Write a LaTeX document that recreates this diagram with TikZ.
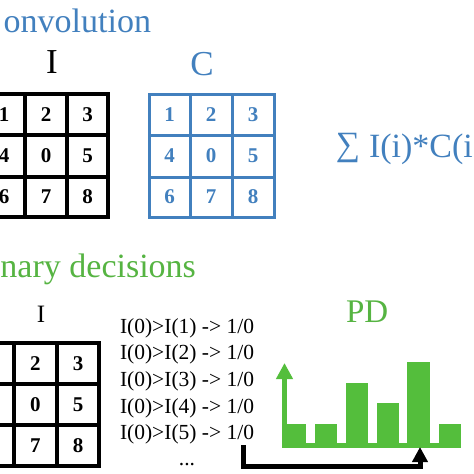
\documentclass[tikz,border=0pt]{standalone}
\usepackage{fontspec}
\setmainfont{Liberation Serif}
\usetikzlibrary{arrows.meta}
\definecolor{cblue}{RGB}{66,128,190}
\definecolor{cgreen}{RGB}{86,180,66}
\definecolor{cbar}{RGB}{84,190,60}
\begin{document}
\begin{tikzpicture}[x=1pt,y=-1pt,
  every node/.style={inner sep=0pt, outer sep=0pt},
  heading/.style={font=\fontsize{34}{34}\selectfont},
  gridlabel/.style={font=\fontsize{35}{35}\selectfont, anchor=base},
  digit/.style={font=\fontsize{21}{21}\selectfont\bfseries},
  bluedigit/.style={digit, text=cblue},
  rulet/.style={font=\fontsize{21.5}{21.5}\selectfont, anchor=base west},
  blackgrid/.style={line width=3.5pt, line cap=rect},
  bluegrid/.style={line width=3pt, draw=cblue, line cap=rect},
  bar/.style={fill=cbar},
]
\useasboundingbox (0,0) rectangle (474,474);
\clip (0,0) rectangle (474,474);
\fill[white] (0,0) rectangle (474,474);

% ---------- Convolution ----------
\node[heading, text=cblue, anchor=base east] (tconv) at (151,32) {onvolution};
\node[gridlabel] (lI1) at (52,73) {I};
\node[gridlabel, text=cblue] (lC) at (202,75) {C};

% I grid (top)
\draw[blackgrid] (-17,94) rectangle (108,217);
\draw[blackgrid] (25,94) -- (25,217) (67,94) -- (67,217)
                 (-17,135) -- (108,135) (-17,177) -- (108,177);
\node[digit] (a1) at (4,114.5) {1};
\node[digit] (a2) at (46,114.5) {2};
\node[digit] (a3) at (87.5,114.5) {3};
\node[digit] (a4) at (4,156) {4};
\node[digit] (a0) at (46,156) {0};
\node[digit] (a5) at (87.5,156) {5};
\node[digit] (a6) at (4,197) {6};
\node[digit] (a7) at (46,197) {7};
\node[digit] (a8) at (87.5,197) {8};

% C grid
\draw[bluegrid] (149,94) rectangle (274,217);
\draw[bluegrid] (190,94) -- (190,217) (232,94) -- (232,217)
                (149,135) -- (274,135) (149,177) -- (274,177);
\node[bluedigit] (c1) at (169.5,114.5) {1};
\node[bluedigit] (c2) at (211,114.5) {2};
\node[bluedigit] (c3) at (253,114.5) {3};
\node[bluedigit] (c4) at (169.5,156) {4};
\node[bluedigit] (c0) at (211,156) {0};
\node[bluedigit] (c5) at (253,156) {5};
\node[bluedigit] (c6) at (169.5,197) {6};
\node[bluedigit] (c7) at (211,197) {7};
\node[bluedigit] (c8) at (253,197) {8};

% sum
\node[text=cblue, font=\fontsize{34}{34}\selectfont] (sig) at (348,148) {∑};
\node[text=cblue, font=\fontsize{34}{34}\selectfont, anchor=base west] (sumt) at (369,157) {I(i)*C(i};

% ---------- Binary decisions ----------
\node[heading, text=cgreen, anchor=base west] (tbin) at (0.5,277) {nary decisions};
\node[font=\fontsize{25}{25}\selectfont, anchor=base] (lI2) at (41,322) {I};

\draw[blackgrid] (-28,343) rectangle (99,466);
\draw[blackgrid] (14,343) -- (14,466) (57,343) -- (57,466)
                 (-28,384) -- (99,384) (-28,425) -- (99,425);
\node[digit] (b2) at (35.5,363.5) {2};
\node[digit] (b3) at (78,363.5) {3};
\node[digit] (b0) at (35.5,404.5) {0};
\node[digit] (b5) at (78,404.5) {5};
\node[digit] (b7) at (35.5,445.5) {7};
\node[digit] (b8) at (78,445.5) {8};

\node[rulet] (r1) at (120,333) {I(0)>I(1) -> 1/0};
\node[rulet] (r2) at (120,359.7) {I(0)>I(2) -> 1/0};
\node[rulet] (r3) at (120,386.3) {I(0)>I(3) -> 1/0};
\node[rulet] (r4) at (120,413) {I(0)>I(4) -> 1/0};
\node[rulet] (r5) at (120,439.7) {I(0)>I(5) -> 1/0};
\node[font=\fontsize{21.5}{21.5}\selectfont, anchor=base] (rdots) at (187,465) {...};

% PD histogram
\node[text=cgreen, font=\fontsize{33}{33}\selectfont, anchor=base west] (pd) at (346,322) {PD};
\fill[bar] (282,443) rectangle (461,448);
\fill[bar] (285,424) rectangle (306,448);
\fill[bar] (315,424) rectangle (337,448);
\fill[bar] (346,383) rectangle (368,448);
\fill[bar] (377,403) rectangle (399,448);
\fill[bar] (407,362) rectangle (430,448);
\fill[bar] (439,424) rectangle (461,448);
\coordinate (ax0) at (284.5,446);
\coordinate (ax1) at (284.5,363);
\draw[cbar, line width=5.5pt, -{Triangle[width=16pt,length=16pt]}] (ax0) -- (ax1);

% black arrow from the rules to the histogram
\coordinate (bs) at (243.5,445);
\coordinate (bc) at (243.5,466);
\coordinate (be) at (420,447);
\draw[line width=5pt, -{Triangle[width=15pt,length=15pt]}] (bs) -- (bc) -| (be);
\end{tikzpicture}
\end{document}
